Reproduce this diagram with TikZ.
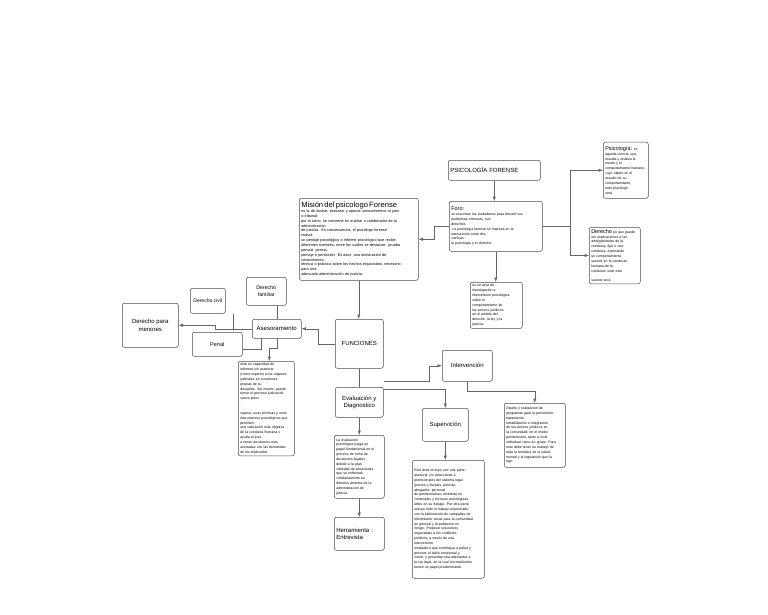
\documentclass[tikz,border=0pt]{standalone}
\usepackage{fontspec}
\setmainfont{Liberation Sans}
\usetikzlibrary{positioning}

\tikzset{
  caja/.style={draw=black!70, line width=0.5pt, rounded corners=2pt,
    anchor=north west, inner sep=2pt, fill=white},
  titulo/.style={caja, align=center, font=\fontsize{6}{7.4}\selectfont},
  texto/.style={caja, align=left, font=\fontsize{3.5}{4.85}\selectfont},
  flecha/.style={draw=black!60, line width=0.5pt, ->, >=latex},
  linea/.style={draw=black!60, line width=0.5pt},
}

\begin{document}
\begin{tikzpicture}[x=1pt, y=-1pt]
    \useasboundingbox (0,0) rectangle (768,615);
    % columna central
    \node[caja, align=left, font=\fontsize{6}{7}\selectfont, text width=88pt,
      minimum height=20pt] (pf) at (448,160) {PSICOLOGÍA FORENSE};
    \node[texto, text width=89pt, minimum height=50pt] (foro) at (449,201)
      {{\fontsize{5.5}{6}\selectfont Foro:}\\
       se escuchan los ciudadanos para discutir sus\\
       problemas comunes, sus\\
       derechos.\\
       \ La psicología forense se interesa en la\\
       intersección entre dos\\
       ciencias:\\
       la psicología y el derecho};
    \node[texto, font=\fontsize{3.8}{4.85}\selectfont, text width=115pt,
      minimum height=82pt] (mision) at (299,198)
      {{\fontsize{7.6}{9}\selectfont Misión del psicologo Forense}\\
       es la de ilustrar, asesorar y aportar conocimientos al juez\\
       o tribunal;\\
       por lo tanto, se convierte en auxiliar o colaborador de la\\
       administración\\
       de justicia. En consecuencia, el psicólogo forense\\
       realiza\\
       un peritaje psicológico o informe psicológico que recibe\\
       diferentes nombres, entre los cuales se destacan: prueba\\
       pericial, pericia,\\
       peritaje o peritación. Es decir, una declaración de\\
       conocimiento,\\
       técnica o práctica sobre los hechos enjuiciados, necesario\\
       para una\\
       adecuada administración de justicia.};
    \node[texto, text width=41pt, minimum height=56pt] (psico) at (603,142)
      {{\fontsize{5.5}{6}\selectfont Psicología:} es\\
       aquella ciencia, que\\
       estudia y analiza la\\
       mente y el\\
       comportamiento humano,\\
       cuyo objeto es el\\
       estudio de su\\
       comportamiento,\\
       todo psicólogo\\
       será};
    \node[texto, text width=47pt, minimum height=55pt] (derecho) at (589,227)
      {{\fontsize{5.5}{6}\selectfont Derecho} (lo que puede\\
       ser explicaciones a las\\
       ambigüedades de la\\
       conducta, fijar o una\\
       conducta, explicando\\
       un comportamiento,\\
       sucede en la conducta\\
       humana de la\\
       conducta, todo esto\\
       \mbox{}\\
       sucede será};
    \node[texto, text width=48pt, minimum height=41pt] (ambito) at (470,282)
      {es un área de\\
       investigación e\\
       intervención psicológica\\
       sobre el\\
       comportamiento de\\
       los actores jurídicos\\
       en el ámbito del\\
       derecho, la ley y la\\
       justicia.};
    % rama izquierda
    \node[titulo, font=\fontsize{5}{6}\selectfont, minimum width=35pt,
      minimum height=25pt] (civil) at (190,288) {Derecho civil};
    \node[titulo, font=\fontsize{5.2}{7}\selectfont, minimum width=40pt,
      minimum height=28pt] (familiar) at (246,277) {Derecho\\ familiar};
    \node[titulo, minimum width=56pt, minimum height=44pt] (menores) at (122,303)
      {Derecho para\\ menores};
    \node[titulo, minimum width=49pt, minimum height=19pt] (asesor) at (252,319)
      {Asesoramiento};
    \node[titulo, font=\fontsize{5.5}{7}\selectfont, minimum width=50pt,
      minimum height=24pt] (penal) at (192,332) {Penal};
    \node[texto, text width=52pt, minimum height=94pt] (asetext) at (238,361)
      {está en capacidad de\\
       informar y/o asesorar\\
       (como experto) a los órganos\\
       judiciales en cuestiones\\
       propias de su\\
       disciplina. Así mismo, puede\\
       tomar el proceso judicial de\\
       varios polos\\
       .\\
       \mbox{}\\
       sujetos, unas técnicas y unos\\
       instrumentos psicológicos que\\
       permiten\\
       una valoración más objetiva\\
       de la conducta humana y\\
       ayuda al juez\\
       a tomar decisiones más\\
       acertadas con las demandas\\
       de los implicados.};
    % funciones
    \node[titulo, minimum width=48pt, minimum height=49pt] (funciones) at (335,319)
      {FUNCIONES};
    \node[titulo, minimum width=48pt, minimum height=30pt] (evalua) at (335,387)
      {Evaluación y\\ Diagnostico};
    \node[titulo, minimum width=50pt, minimum height=31pt] (interv) at (442,350)
      {Intervención};
    \node[titulo, minimum width=46pt, minimum height=33pt] (superv) at (422,408)
      {Supervición};
    \node[texto, text width=57pt, minimum height=64pt] (intervtext) at (504,403)
      {Diseño y realización de\\
       programas para la prevención,\\
       tratamiento,\\
       rehabilitación e integración\\
       de los actores jurídicos en\\
       la comunidad, en el medio\\
       penitenciario, tanto a nivel\\
       individual como en grupo. Para\\
       esto debe tener un manejo de\\
       toda la temática de la salud\\
       mental y la legislación que la\\
       rige.};
    \node[texto, text width=46pt, minimum height=63pt] (evaltext) at (334,435)
      {La evaluación\\
       psicológica juega un\\
       papel fundamental en el\\
       proceso de toma de\\
       decisiones legales\\
       debido a la gran\\
       variedad de situaciones\\
       que se enfrentan\\
       cotidianamente en\\
       distintos ámbitos de la\\
       administración de\\
       justicia.};
    \node[caja, align=left, font=\fontsize{6}{7.4}\selectfont, text width=46pt,
      minimum height=33pt] (herram) at (334,517) {Herramienta :\\ Entrevista};
    \node[texto, text width=68pt, minimum height=118pt] (supervtext) at (412,460)
      {Este área incluye, por una parte,\\
       asesorar y/o seleccionar a\\
       profesionales del sistema legal\\
       (jueces y fiscales, policías,\\
       abogados, personal\\
       de penitenciarías, etcétera) en\\
       contenidos y técnicas psicológicas\\
       útiles en su trabajo. Por otra parte,\\
       incluye todo el trabajo relacionado\\
       con la elaboración de campañas de\\
       información social para la comunidad\\
       en general y la población en\\
       riesgo. Propiciar soluciones\\
       negociadas a los conflictos\\
       jurídicos, a través de una\\
       intervención\\
       mediadora que contribuya a paliar y\\
       prevenir el daño emocional y\\
       social, y presentar una alternativa a\\
       la vía legal, en la cual los implicados\\
       tienen un papel predominante.};
    % conexiones
    \draw[flecha] (pf.south) -- (pf.south |- foro.north);
    \draw[flecha] (foro.west) -- ++(-15,0) |- (mision.east);
    \draw[linea] (foro.east) -- ++(28,0) coordinate (fj);
    \draw[flecha] (fj) |- (psico.west);
    \draw[flecha] (fj) |- (derecho.west);
    \draw[flecha] (foro.south) -- (foro.south |- ambito.north);
    \draw[flecha] (mision.south) -- (mision.south |- funciones.north);
    \draw[flecha] (funciones.west) -- ++(-17,0) |- (asesor.east);
    \draw[flecha] (asesor.west) -- ++(-37,0) |- (menores.east);
    \draw[linea] ([xshift=8pt]civil.south east) -- ([xshift=8pt]civil.south east |- asesor.west);
    \draw[linea] (asesor.north) -- (asesor.north |- familiar.south);
    \draw[linea] ([yshift=-5pt]penal.east) -| ([xshift=-16pt]asesor.south);
    \draw[flecha] (asesor.south) -- ++(0,10) -| ([xshift=3pt]asetext.north);
    \draw[linea] (funciones.south) -- (evalua.north);
    \coordinate (fs) at ([yshift=-13pt]funciones.south east);
    \draw[flecha] (fs) -- ++(46,0) |- (interv.west);
    \draw[flecha] ([yshift=-2pt]evalua.north east) -| (superv.north);
    \draw[flecha] (interv.south) -- ++(0,10) -| (intervtext.north);
    \draw[flecha] (evalua.south) -- (evaltext.north);
    \draw[flecha] (evaltext.south) -- (herram.north);
    \draw[flecha] (superv.south) -- (superv.south |- supervtext.north);
\end{tikzpicture}
\end{document}
